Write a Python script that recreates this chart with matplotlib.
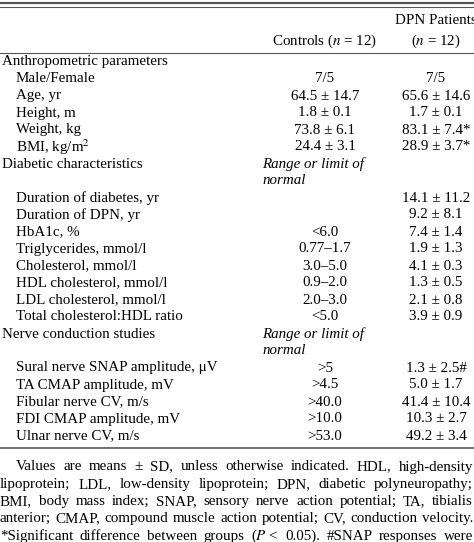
import matplotlib
matplotlib.use('Agg')
import matplotlib.pyplot as plt

plt.rcParams['font.family'] = ['Liberation Serif', 'DejaVu Serif']
plt.rcParams['mathtext.fontset'] = 'stix'

# table rows: (label, controls, dpn, is_section)
rows = [
    ("Anthropometric parameters", "", "", True),
    ("Male/Female", "7/5", "7/5", False),
    ("Age, yr", "64.5 ± 14.7", "65.6 ± 14.6", False),
    ("Height, m", "1.8 ± 0.1", "1.7 ± 0.1", False),
    ("Weight, kg", "73.8 ± 6.1", "83.1 ± 7.4*", False),
    ("BMI, kg/m$^2$", "24.4 ± 3.1", "28.9 ± 3.7*", False),
    ("Diabetic characteristics", "RANGE1", "", True),
    ("", "RANGE2", "", False),
    ("Duration of diabetes, yr", "", "14.1 ± 11.2", False),
    ("Duration of DPN, yr", "", "9.2 ± 8.1", False),
    ("HbA1c, %", "<6.0", "7.4 ± 1.4", False),
    ("Triglycerides, mmol/l", "0.77–1.7", "1.9 ± 1.3", False),
    ("Cholesterol, mmol/l", "3.0–5.0", "4.1 ± 0.3", False),
    ("HDL cholesterol, mmol/l", "0.9–2.0", "1.3 ± 0.5", False),
    ("LDL cholesterol, mmol/l", "2.0–3.0", "2.1 ± 0.8", False),
    ("Total cholesterol:HDL ratio", "<5.0", "3.9 ± 0.9", False),
    ("Nerve conduction studies", "RANGE1", "", True),
    ("", "RANGE2", "", False),
    ("Sural nerve SNAP amplitude, μV", ">5", "1.3 ± 2.5#", False),
    ("TA CMAP amplitude, mV", ">4.5", "5.0 ± 1.7", False),
    ("Fibular nerve CV, m/s", ">40.0", "41.4 ± 10.4", False),
    ("FDI CMAP amplitude, mV", ">10.0", "10.3 ± 2.7", False),
    ("Ulnar nerve CV, m/s", ">53.0", "49.2 ± 3.4", False),
]

footnote = [
    "Values are means ± SD, unless otherwise indicated. HDL, high-density",
    "lipoprotein; LDL, low-density lipoprotein; DPN, diabetic polyneuropathy;",
    "BMI, body mass index; SNAP, sensory nerve action potential; TA, tibialis",
    "anterior; CMAP, compound muscle action potential; CV, conduction velocity.",
    "*Significant difference between groups ($P$ < 0.05). #SNAP responses were",
    "observed in 6 of 12 patients.",
]

W, H = 474, 542
fig = plt.figure(figsize=(W / 100, H / 100), dpi=100)
ax = fig.add_axes([0, 0, 1, 1])
ax.set_xlim(0, W)
ax.set_ylim(H, 0)
ax.axis('off')

fs = 10.8
col_c, col_d = 325, 436

# rules
ax.plot([0, W], [3, 3], color='#555', lw=1.6)
ax.plot([0, W], [7, 7], color='#555', lw=0.8)
ax.plot([0, W], [53, 53], color='#555', lw=0.8)

ax.text(col_d, 21, "DPN Patients", ha='center', va='center', fontsize=fs)
ax.text(col_d, 41, "($n$ = 12)", ha='center', va='center', fontsize=fs)
ax.text(col_c, 41, "Controls ($n$ = 12)", ha='center', va='center', fontsize=fs)

y0, dy = 62, 17.0
for i, (lab, c, d, sec) in enumerate(rows):
    y = y0 + i * dy
    if lab:
        ax.text(2 if sec else 16, y, lab, ha='left', va='center', fontsize=fs)
    if c == "RANGE1":
        ax.text(262, y, "Range or limit of", ha='left', va='center', fontsize=fs, style='italic')
    elif c == "RANGE2":
        ax.text(262, y, "normal", ha='left', va='center', fontsize=fs, style='italic')
    elif c:
        ax.text(col_c, y, c, ha='center', va='center', fontsize=fs)
    if d:
        ax.text(col_d, y, d, ha='center', va='center', fontsize=fs)

y_end = y0 + (len(rows) - 1) * dy + 12
ax.plot([0, W], [y_end, y_end], color='#555', lw=1.2)

# footnote, justified
fig.canvas.draw()
r = fig.canvas.get_renderer()
inv = ax.transData.inverted()
fy = y_end + 19
for k, line in enumerate(footnote):
    y = fy + k * 17.3
    left = 16 if k == 0 else 0
    words = line.replace('($P$ <', '($P$\u00a0<').split(' ')
    arts = [ax.text(0, y, w, ha='left', va='center', fontsize=fs) for w in words]
    widths = []
    for a in arts:
        bb = a.get_window_extent(r)
        x0 = inv.transform((bb.x0, 0))[0]
        x1 = inv.transform((bb.x1, 0))[0]
        widths.append(x1 - x0)
    last = k == len(footnote) - 1
    gap = 3.5 if last else (W - 1 - left - sum(widths)) / max(len(words) - 1, 1)
    x = left
    for a, w in zip(arts, widths):
        a.set_x(x)
        x += w + gap

fig.savefig('out.png', dpi=100)
